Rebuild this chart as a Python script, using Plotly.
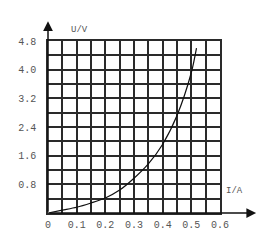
import plotly.graph_objects as go

# Data (I in A, U in V)
current = [0, 0.05, 0.10, 0.15, 0.20, 0.25, 0.30, 0.35, 0.40, 0.45, 0.50, 0.518]
voltage = [0, 0.08, 0.16, 0.28, 0.42, 0.64, 0.97, 1.37, 1.92, 2.72, 3.92, 4.6]

x_grid = [round(i * 0.05, 2) for i in range(13)]
x_text = ["0", "", "0.1", "", "0.2", "", "0.3", "", "0.4", "", "0.5", "", "0.6"]
y_grid = [round(i * 0.4, 1) for i in range(13)]
y_text = ["", "", "0.8", "", "1.6", "", "2.4", "", "3.2", "", "4.0", "", "4.8"]

FONT = "Liberation Mono"
GRID = "#2a2a2a"
TXT = "#555"

fig = go.Figure()
fig.add_trace(go.Scatter(
    x=current, y=voltage, mode="lines",
    line=dict(color="#111", width=1.2, shape="spline", smoothing=0.8),
    hoverinfo="skip", showlegend=False,
))

fig.update_layout(
    width=263, height=245,
    margin=dict(l=48, r=43, t=41, b=32, autoexpand=False),
    paper_bgcolor="white", plot_bgcolor="white",
    font=dict(family=FONT, size=10, color=TXT),
    xaxis=dict(
        range=[0, 0.6], tickvals=x_grid, ticktext=x_text,
        showgrid=True, gridcolor=GRID, gridwidth=1.5,
        showline=True, mirror=True, linecolor=GRID, linewidth=1.5,
        zeroline=False, ticks="", ticklabelstandoff=1,
        automargin=False, fixedrange=True,
    ),
    yaxis=dict(
        range=[0, 4.8], tickvals=y_grid, ticktext=y_text,
        showgrid=True, gridcolor=GRID, gridwidth=1.5,
        showline=True, mirror=True, linecolor=GRID, linewidth=1.5,
        zeroline=False, ticks="", ticklabelstandoff=8,
        automargin=False, fixedrange=True,
    ),
)

# axis arrows (tail given in pixels from the tip)
fig.add_annotation(xref="paper", yref="paper", x=1.21, y=0,
                   ax=-208, ay=0,
                   showarrow=True, arrowhead=2, arrowsize=1.3, arrowwidth=1.5,
                   arrowcolor="#111", text="")
fig.add_annotation(xref="paper", yref="paper", x=0, y=1.115,
                   ax=0, ay=192,
                   showarrow=True, arrowhead=2, arrowsize=1.3, arrowwidth=1.5,
                   arrowcolor="#111", text="")

# axis titles
fig.add_annotation(xref="paper", yref="paper", x=0.12, y=1.105,
                   text="U/V", showarrow=False,
                   font=dict(family=FONT, size=9, color=TXT))
fig.add_annotation(xref="paper", yref="paper", x=1.145, y=0.09,
                   text="I/A", showarrow=False,
                   font=dict(family=FONT, size=9, color=TXT))

fig.write_html("out.html")
